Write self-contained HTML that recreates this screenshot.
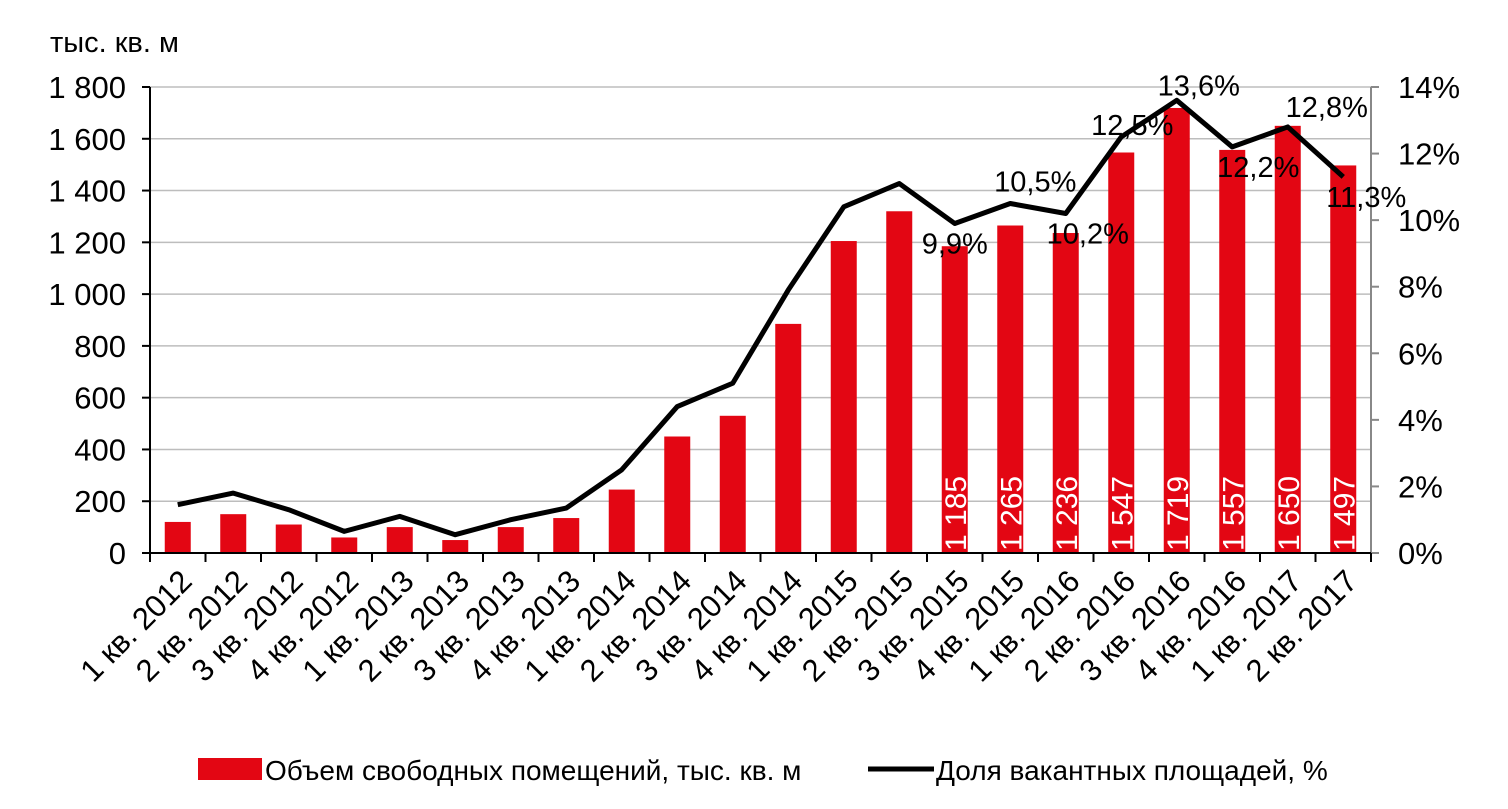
<!DOCTYPE html>
<html><head><meta charset="utf-8"><style>
body{margin:0;background:#fff;}
svg text{font-family:"Liberation Sans",Arial,sans-serif;}
</style></head><body>
<svg id="c" width="1508" height="804"></svg>
<script>
const categories=["1 кв. 2012","2 кв. 2012","3 кв. 2012","4 кв. 2012","1 кв. 2013","2 кв. 2013","3 кв. 2013","4 кв. 2013","1 кв. 2014","2 кв. 2014","3 кв. 2014","4 кв. 2014","1 кв. 2015","2 кв. 2015","3 кв. 2015","4 кв. 2015","1 кв. 2016","2 кв. 2016","3 кв. 2016","4 кв. 2016","1 кв. 2017","2 кв. 2017"];
const volume=[120,150,110,60,100,50,100,135,245,450,530,885,1205,1320,1185,1265,1236,1547,1719,1557,1650,1497];
const vacancy=[1.45,1.8,1.3,0.65,1.1,0.55,1.0,1.35,2.5,4.4,5.1,7.9,10.4,11.1,9.9,10.5,10.2,12.5,13.6,12.2,12.8,11.3];
const leftTicks=[0,200,400,600,800,1000,1200,1400,1600,1800];
const leftTickLabels=["0","200","400","600","800","1 000","1 200","1 400","1 600","1 800"];
const rightTicks=[0,2,4,6,8,10,12,14];
const volLabelIdx=[14,15,16,17,18,19,20,21];
const volLabels=["1 185","1 265","1 236","1 547","1 719","1 557","1 650","1 497"];
const pctLabelIdx=[14,15,16,17,18,19,20,21];
const pctLabels=["9,9%","10,5%","10,2%","12,5%","13,6%","12,2%","12,8%","11,3%"];
const pctLabelPos=["below","above","below","above","above","below","above","below"];
const pctDx=[0,25,22,11,22,26,39,23];
const pctDy=[30,-12,30,-2,-5,30,-10,30];

const svg=document.getElementById('c');const NS="http://www.w3.org/2000/svg";
function mk(t,a,p){const e=document.createElementNS(NS,t);for(const k in a)e.setAttribute(k,a[k]);(p||svg).appendChild(e);return e;}
const L=150,R=1371,T=87,B=553;
const band=(R-L)/categories.length;
const x=i=>L+band*(i+0.5);
const yL=v=>B-(v/1800)*(B-T);
const yR=v=>B-(v/14)*(B-T);
leftTicks.forEach((t,i)=>{
  if(t>0){const g=mk('line',{x1:L,x2:R,y1:yL(t),y2:yL(t),stroke:'#bdbdbd','stroke-width':1.5});}
  const tk=mk('line',{x1:L-8,x2:L,y1:yL(t),y2:yL(t),stroke:'#000','stroke-width':2});
  
  const tx=mk('text',{x:L-24,y:yL(t)+11,'text-anchor':'end','font-size':31});tx.textContent=leftTickLabels[i];
  
});
rightTicks.forEach(t=>{
  const tk=mk('line',{x1:R,x2:R+8,y1:yR(t),y2:yR(t),stroke:'#888','stroke-width':2});
  
  const tx=mk('text',{x:R+27,y:yR(t)+11,'font-size':31});tx.textContent=t+'%';
  
});
volume.forEach((v,i)=>{
  const r=mk('rect',{x:x(i)-13,y:yL(v),width:26,height:B-yL(v),fill:'#e30613'});
  
});
volLabelIdx.forEach((idx,k)=>{
  const t=mk('text',{x:0,y:0,'font-size':30,fill:'#fff',transform:`translate(${x(idx)+11},${B-2}) rotate(-90)`});
  t.textContent=volLabels[k];
});
const ax=mk('line',{x1:L,x2:L,y1:T,y2:B,stroke:'#000','stroke-width':2});
const ar=mk('line',{x1:R,x2:R,y1:T,y2:B,stroke:'#888','stroke-width':2});
const ab=mk('line',{x1:L,x2:R,y1:B,y2:B,stroke:'#000','stroke-width':2});
for(let i=0;i<=categories.length;i++){const tk=mk('line',{x1:L+band*i,x2:L+band*i,y1:B,y2:B+9,stroke:'#000','stroke-width':2});}
categories.forEach((c,i)=>{
  const t=mk('text',{x:0,y:0,'font-size':31,'text-anchor':'end',transform:`translate(${x(i)+16},${B+30}) rotate(-45)`});
  t.textContent=c;
});
const pl=mk('polyline',{points:vacancy.map((v,i)=>x(i)+','+yR(v)).join(' '),fill:'none',stroke:'#000','stroke-width':5,'stroke-linejoin':'round'});

pctLabelIdx.forEach((idx,k)=>{
  const t=mk('text',{x:x(idx)+pctDx[k],y:yR(vacancy[idx])+pctDy[k],'font-size':29,'text-anchor':'middle'});
  t.textContent=pctLabels[k];
});
const ut=mk('text',{x:50,y:52,'font-size':29});ut.textContent='тыс. кв. м';
const lr=mk('rect',{x:198,y:758,width:64,height:22,fill:'#e30613'});
const lt=mk('text',{x:265,y:780,'font-size':28});lt.textContent='Объем свободных помещений, тыс. кв. м';
const ll=mk('line',{x1:868,x2:934,y1:769,y2:769,stroke:'#000','stroke-width':5});
const lt2=mk('text',{x:936,y:780,'font-size':28});lt2.textContent='Доля вакантных площадей, %';
</script>
</body></html>
